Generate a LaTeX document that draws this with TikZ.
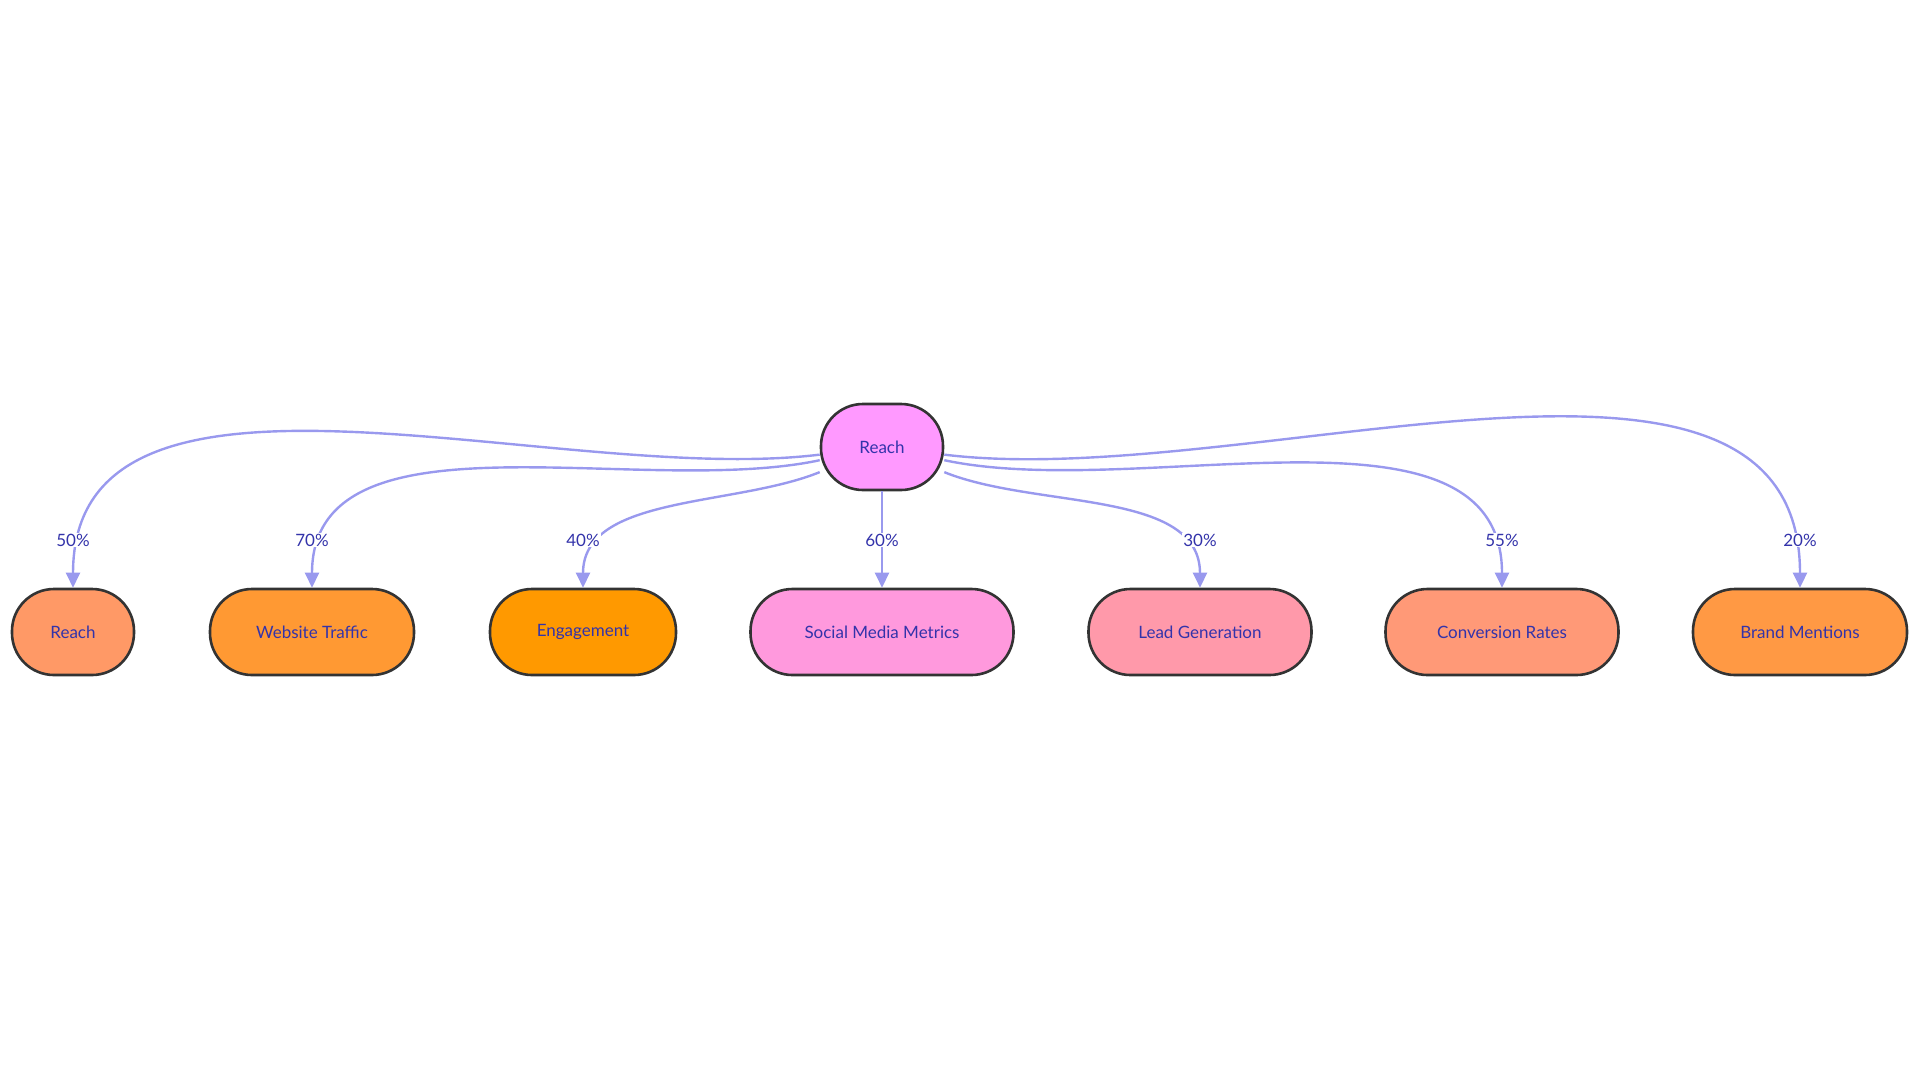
\documentclass[tikz,border=0pt]{standalone}
\usepackage{fontspec}
\setmainfont{Lato}
\usetikzlibrary{arrows.meta}
\definecolor{edge}{HTML}{9999EE}
\definecolor{txt}{HTML}{3333AA}
\definecolor{c0}{HTML}{FF99FF}
\definecolor{c1}{HTML}{FF9966}\definecolor{c2}{HTML}{FF9933}\definecolor{c3}{HTML}{FF9900}
\definecolor{c4}{HTML}{FF99DD}\definecolor{c5}{HTML}{FF99AA}\definecolor{c6}{HTML}{FF9977}\definecolor{c7}{HTML}{FF9944}
\begin{document}
\begin{tikzpicture}[x=1pt,y=-1pt,
  box/.style={draw=black!80,line width=2.6pt,rounded corners=42pt,minimum height=86pt,text=txt,font=\fontsize{17}{20}\selectfont,inner sep=0pt},
  ed/.style={draw=edge,line width=2.4pt,-{Triangle[length=15pt,width=14pt]}},
  lab/.style={text=txt,font=\fontsize{17}{20}\selectfont,fill=white,inner sep=1pt}]
\useasboundingbox (0,0) rectangle (1920,1080);
\node[box,fill=c0,minimum width=122pt] (top) at (882,447) {Reach};
\node[box,fill=c1,minimum width=122pt] (n1) at (73,632) {Reach};
\node[box,fill=c2,minimum width=204pt] (n2) at (312,632) {Website Traffic};
\node[box,fill=c3,minimum width=186pt] (n3) at (583,632) {Engagement};
\node[box,fill=c4,minimum width=263pt] (n4) at (882,632) {Social Media Metrics};
\node[box,fill=c5,minimum width=223pt] (n5) at (1200,632) {Lead Generation};
\node[box,fill=c6,minimum width=233pt] (n6) at (1502,632) {Conversion Rates};
\node[box,fill=c7,minimum width=214pt] (n7) at (1800,632) {Brand Mentions};
\draw[ed] (top) to[out=187,in=90,looseness=0.9] (n1);
\draw[ed] (top) to[out=192,in=90,looseness=0.9] (n2);
\draw[ed] (top) to[out=202,in=90,looseness=0.9] (n3);
\draw[ed] (top) -- (n4);
\draw[ed] (top) to[out=-22,in=90,looseness=0.9] (n5);
\draw[ed] (top) to[out=-12,in=90,looseness=0.9] (n6);
\draw[ed] (top) to[out=-7,in=90,looseness=0.9] (n7);
\node[lab] (l1) at (73,540) {50\%};
\node[lab] (l2) at (312,540) {70\%};
\node[lab] (l3) at (583,540) {40\%};
\node[lab] (l4) at (882,540) {60\%};
\node[lab] (l5) at (1200,540) {30\%};
\node[lab] (l6) at (1502,540) {55\%};
\node[lab] (l7) at (1800,540) {20\%};
\end{tikzpicture}
\end{document}
